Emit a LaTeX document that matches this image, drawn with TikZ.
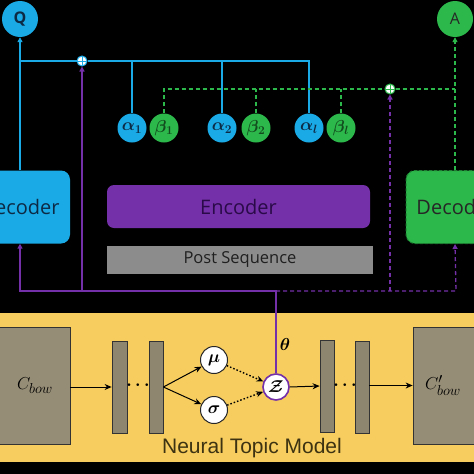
\documentclass[tikz,border=0pt]{standalone}
\usepackage{fontspec}
\setmainfont{Open Sans}
\newfontfamily\arialf{Liberation Sans}
\usetikzlibrary{arrows.meta,calc}
\definecolor{qblue}{HTML}{1AAAE6}
\definecolor{agreen}{HTML}{2DB84B}
\definecolor{dgreen}{HTML}{1E7F32}
\definecolor{ppl}{HTML}{7430A8}
\definecolor{pdark}{HTML}{2A0A48}
\definecolor{navy}{HTML}{0D2A45}
\definecolor{gold}{HTML}{F6CD5E}
\definecolor{olive}{HTML}{968D76}
\definecolor{bar}{HTML}{8E866F}
\definecolor{ntm}{HTML}{3D3312}
\tikzset{
  bl/.style={draw=qblue,line width=1.6pt},
  gl/.style={draw=agreen,line width=1.3pt,dash pattern=on 4pt off 3pt},
  pl/.style={draw=ppl,line width=1.2pt},
  pld/.style={draw=ppl,line width=1.3pt,dash pattern=on 4pt off 3pt},
  tip/.style={-{Triangle[length=5pt,width=5pt]}},
  abox/.style={circle,fill=qblue,minimum size=29pt,inner sep=0pt,text=navy,font=\fontsize{18}{18}\selectfont\boldmath},
  bbox/.style={circle,fill=agreen,minimum size=29pt,inner sep=0pt,text=dgreen!60!black,font=\fontsize{18}{18}\selectfont\boldmath},
  opl/.style={circle,fill=white,draw=#1,line width=1pt,minimum size=10pt,inner sep=0pt,
     path picture={\draw[#1,line width=1pt] (path picture bounding box.north) -- (path picture bounding box.south)
     (path picture bounding box.west) -- (path picture bounding box.east);}},
  barbox/.style={draw=black!80,line width=0.8pt,fill=bar},
  gcirc/.style={circle,fill=white,draw=black!85,line width=1pt,minimum size=27pt,inner sep=0pt,font=\fontsize{17}{17}\selectfont\boldmath},
  blk/.style={draw=black,line width=1pt,-{Stealth[length=7pt,width=6pt]}},
  dotarr/.style={draw=black,line width=1.4pt,dash pattern=on 1.5pt off 2pt,-{Stealth[length=7pt,width=6pt]}}
}
\begin{document}
\begin{tikzpicture}[x=1pt,y=-1pt]
\useasboundingbox (0,0) rectangle (474,474);
\clip (0,0) rectangle (474,474);
\fill[black] (0,0) rectangle (474,474);

% top nodes
\node[circle,fill=qblue,minimum size=36pt,inner sep=0pt,text=navy,font=\bfseries\fontsize{16}{16}\selectfont] (Q) at (20,19) {Q};
\node[circle,fill=agreen,minimum size=36pt,inner sep=0pt,text=black!85,font=\fontsize{16}{16}\selectfont] (A) at (455,19) {A};

% decoders
\node[rounded corners=9pt,fill=qblue,minimum width=100pt,minimum height=73pt,inner sep=0pt,text=navy,font=\fontsize{20}{20}\selectfont] (decL) at (20,207) {Decoder};
\node[rounded corners=9pt,fill=agreen,draw=dgreen,dash pattern=on 3pt off 2pt,line width=1pt,minimum width=100pt,minimum height=73pt,inner sep=0pt,text=black!85,font=\fontsize{20}{20}\selectfont] (decR) at (456,207) {Decoder};

% encoder & post
\node[rounded corners=7pt,fill=ppl,minimum width=263pt,minimum height=43pt,inner sep=0pt,text=pdark,font=\fontsize{20}{20}\selectfont] (enc) at (238.5,206.5) {Encoder};
\node[fill=black!45,minimum width=266pt,minimum height=28pt,inner sep=0pt,text=black!88,font=\fontsize{16.5}{16.5}\selectfont] (post) at (240,260) {Post Sequence};

% alpha beta nodes
\node[abox] (a1) at (132,128) {$\alpha_1$};
\node[bbox] (b1) at (164,128) {$\beta_1$};
\node[abox] (a2) at (222,128) {$\alpha_2$};
\node[bbox] (b2) at (256,128) {$\beta_2$};
\node[abox] (al) at (309,128) {$\alpha_l$};
\node[bbox] (bl) at (341,128) {$\beta_l$};

% oplus nodes
\node[opl=qblue] (o1) at (82,61) {};
\node[opl=agreen] (o2) at (390,89) {};

% blue lines
\coordinate (qc) at (20,61);
\draw[bl,tip] (decL.north) -- (Q.south);
\draw[bl] (qc) -- (o1.west);
\draw[bl] (o1.east) -- (al.north |- qc) -- (al.north);
\draw[bl] (a1.north) -- (a1.north |- qc);
\draw[bl] (a2.north) -- (a2.north |- qc);

% green lines
\coordinate (gc) at (455,89);
\draw[gl,tip] (decR.north -| A.south) -- (A.south);
\draw[gl] (b1.north) -- (b1.north |- gc) -- (o2.west);
\draw[gl] (o2.east) -- (gc);
\draw[gl] (b2.north) -- (b2.north |- gc);
\draw[gl] (bl.north) -- (bl.north |- gc);

% bottom panel
\fill[gold] (0,313) rectangle (474,462);
\node[draw=black!80,line width=0.8pt,fill=olive,minimum width=80pt,minimum height=117pt,inner sep=0pt,font=\fontsize{19}{19}\selectfont] (cb) at (30,385.5) {\hspace*{10pt}$C_{bow}$};
\node[barbox,minimum width=15pt,minimum height=92pt,inner sep=0pt] (h1) at (119.5,387) {};
\node[barbox,minimum width=14pt,minimum height=92pt,inner sep=0pt] (h2) at (156,387) {};
\node[font=\fontsize{17}{17}\selectfont\boldmath] (d1) at (138,385) {$\cdots$};
\node[gcirc] (mu) at (214,360) {$\mu$};
\node[gcirc] (sg) at (214,410) {$\sigma$};
\node[gcirc,draw=ppl,line width=1.6pt,minimum size=26pt] (z) at (276,387) {$\mathcal{Z}$};
\node[barbox,minimum width=14pt,minimum height=92pt,inner sep=0pt] (h3) at (327,386) {};
\node[barbox,minimum width=14pt,minimum height=92pt,inner sep=0pt] (h4) at (362,387) {};
\node[font=\fontsize{17}{17}\selectfont\boldmath] (d2) at (345,385) {$\cdots$};
\node[draw=black!80,line width=0.8pt,fill=olive,minimum width=80pt,minimum height=117pt,inner sep=0pt,font=\fontsize{19}{19}\selectfont] (cb2) at (453,385.5) {$C'_{bow}$\hspace*{20pt}};
\node[font=\fontsize{16}{16}\selectfont\boldmath] (th) at (285,344) {$\theta$};
\node[font=\arialf\fontsize{21}{21}\selectfont,text=ntm] (ntmlab) at (252,448) {Neural Topic Model};

\draw[blk] (cb.east |- h1.west) -- (h1.west);
\draw[blk] (h2.east) -- (mu);
\draw[blk] (h2.east) -- (sg);
\draw[dotarr] (mu) -- (z);
\draw[dotarr] (sg) -- (z);
\draw[blk] (z.east) -- (h3.west);
\draw[blk] (h4.east |- cb2.west) -- (cb2.west);

% purple lines
\coordinate (pc) at (276,291);
\coordinate (pl1) at (82,291);
\draw[pl,tip] (z.north) -- (pc) -- (decL.south |- pc) -- (decL.south);
\draw[pl,tip] (pl1) -- (o1.south);
\draw[pld,tip] (pc) -- (decR.south |- pc) -- (decR.south -| A.south);
\draw[pld,tip] (o2.south |- pc) -- (o2.south);
\end{tikzpicture}
\end{document}
